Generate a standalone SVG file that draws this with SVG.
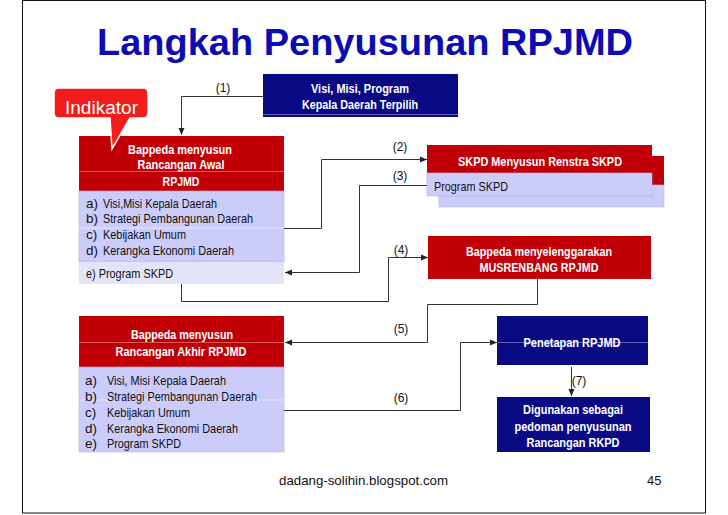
<svg xmlns="http://www.w3.org/2000/svg" width="728" height="515" viewBox="0 0 728 515">
<style>
.t{font-family:"Liberation Sans",Arial,sans-serif}
.hw{font-family:"Liberation Sans",Arial,sans-serif;font-weight:bold;font-size:13px;fill:#fff;text-anchor:middle}
.it{font-family:"Liberation Sans",Arial,sans-serif;font-size:13.5px;fill:#111}
.lb{font-family:"Liberation Sans",Arial,sans-serif;font-size:12px;fill:#111;text-anchor:middle}
.red{fill:#c00006}
.navy{fill:#0a0a84}
.lav{fill:#ccccfa;stroke:#b4b4dc;stroke-width:0.6}
.lav2{fill:#e4e4f8}
.con{fill:none;stroke:#333;stroke-width:1}
.ghost{stroke:#ffffff;stroke-opacity:0.35;stroke-width:1}
</style>
<defs>
<marker id="ah" markerWidth="7" markerHeight="7" refX="7" refY="3.5" orient="auto" markerUnits="userSpaceOnUse">
<path d="M0,0.5 L7,3.5 L0,6.5 z" fill="#222"/>
</marker>
</defs>
<rect x="0" y="0" width="728" height="515" fill="#fff"/>
<rect x="22.5" y="0.5" width="683" height="512.5" fill="none" stroke="#111" stroke-width="1"/>
<text class="t" x="97" y="55" font-size="37" font-weight="bold" fill="#0c0cb4" textLength="536" lengthAdjust="spacingAndGlyphs">Langkah Penyusunan RPJMD</text>

<g id="n-visi">
<rect class="navy" x="263" y="74" width="195" height="43"/>
<line x1="263" y1="114.5" x2="458" y2="114.5" stroke="#5a5ab4" stroke-width="1"/>
<text class="hw" x="360" y="93" textLength="98" lengthAdjust="spacingAndGlyphs">Visi, Misi, Program</text>
<text class="hw" x="360" y="109" textLength="116" lengthAdjust="spacingAndGlyphs">Kepala Daerah Terpilih</text>
</g>

<g id="n-awal">
<rect class="red" x="79" y="136" width="205" height="55"/>
<line class="ghost" x1="79" y1="171.5" x2="284" y2="171.5"/>
<rect class="lav" x="79" y="191" width="205" height="71"/>
<line x1="79" y1="228" x2="284" y2="228" stroke="#e6e6ff" stroke-width="1"/>
<rect class="lav2" x="79" y="262" width="205" height="22"/>
<text class="hw" x="180" y="153.5" textLength="104" lengthAdjust="spacingAndGlyphs">Bappeda menyusun</text>
<text class="hw" x="181" y="168.5" textLength="87" lengthAdjust="spacingAndGlyphs">Rancangan Awal</text>
<text class="hw" x="181" y="185.5" textLength="37" lengthAdjust="spacingAndGlyphs">RPJMD</text>
<text class="it" x="86" y="207.5">a)</text><text class="it" x="103" y="207.5" textLength="114" lengthAdjust="spacingAndGlyphs">Visi,Misi Kepala Daerah</text>
<text class="it" x="86" y="223">b)</text><text class="it" x="103" y="223" textLength="150" lengthAdjust="spacingAndGlyphs">Strategi Pembangunan Daerah</text>
<text class="it" x="86" y="239">c)</text><text class="it" x="103" y="239" textLength="83" lengthAdjust="spacingAndGlyphs">Kebijakan Umum</text>
<text class="it" x="86" y="255">d)</text><text class="it" x="103" y="255" textLength="131" lengthAdjust="spacingAndGlyphs">Kerangka Ekonomi Daerah</text>
<text class="it" x="86" y="278" textLength="87" lengthAdjust="spacingAndGlyphs">e) Program SKPD</text>
</g>

<g id="n-indikator">
<path d="M59,88 H143 Q148,88 148,93 V113 Q148,118 143,118 H130 L112,149 L110,118 H59 Q54,118 54,113 V93 Q54,88 59,88 Z" fill="#f21c1c" stroke="#fff" stroke-width="1.5"/>
<text class="t" x="65" y="113.5" font-size="19" fill="#fff" textLength="73" lengthAdjust="spacingAndGlyphs">Indikator</text>
</g>

<g id="n-skpd">
<rect class="red" x="439" y="156" width="225" height="29"/>
<rect class="lav" x="439" y="185" width="225" height="22"/>
<rect class="red" x="427" y="145" width="225" height="28"/>
<rect class="lav" x="427" y="173" width="225" height="23"/>
<text class="hw" x="540" y="165.5" textLength="164" lengthAdjust="spacingAndGlyphs">SKPD Menyusun Renstra SKPD</text>
<text class="it" x="434" y="190.5" textLength="74" lengthAdjust="spacingAndGlyphs">Program SKPD</text>
</g>

<g id="n-musrenbang">
<rect class="red" x="428" y="236" width="223" height="43"/>
<text class="hw" x="539" y="255.5" textLength="146" lengthAdjust="spacingAndGlyphs">Bappeda menyelenggarakan</text>
<text class="hw" x="539" y="271.5" textLength="119" lengthAdjust="spacingAndGlyphs">MUSRENBANG RPJMD</text>
</g>

<g id="n-akhir">
<rect class="red" x="79" y="316" width="205" height="51"/>
<line class="ghost" x1="79" y1="342.5" x2="284" y2="342.5"/>
<rect class="lav" x="79" y="367" width="205" height="85"/>
<line x1="79" y1="400" x2="284" y2="400" stroke="#e6e6ff" stroke-width="1"/>
<text class="hw" x="182" y="338.5" textLength="102" lengthAdjust="spacingAndGlyphs">Bappeda menyusun</text>
<text class="hw" x="181" y="355.5" textLength="131" lengthAdjust="spacingAndGlyphs">Rancangan Akhir RPJMD</text>
<text class="it" x="85" y="384.5">a)</text><text class="it" x="107" y="384.5" textLength="119" lengthAdjust="spacingAndGlyphs">Visi, Misi Kepala Daerah</text>
<text class="it" x="85" y="400.5">b)</text><text class="it" x="107" y="400.5" textLength="150" lengthAdjust="spacingAndGlyphs">Strategi Pembangunan Daerah</text>
<text class="it" x="85" y="416.5">c)</text><text class="it" x="107" y="416.5" textLength="83" lengthAdjust="spacingAndGlyphs">Kebijakan Umum</text>
<text class="it" x="85" y="432.5">d)</text><text class="it" x="107" y="432.5" textLength="131" lengthAdjust="spacingAndGlyphs">Kerangka Ekonomi Daerah</text>
<text class="it" x="85" y="447.5">e)</text><text class="it" x="107" y="447.5" textLength="74" lengthAdjust="spacingAndGlyphs">Program SKPD</text>
</g>

<g id="n-penetapan">
<rect class="navy" x="497" y="316" width="151" height="49"/>
<line class="ghost" x1="497" y1="342.5" x2="648" y2="342.5"/>
<text class="hw" x="572" y="346.5" textLength="97" lengthAdjust="spacingAndGlyphs">Penetapan RPJMD</text>
</g>

<g id="n-digunakan">
<rect class="navy" x="497" y="397" width="153" height="55"/>
<text class="hw" x="573" y="413.5" textLength="100" lengthAdjust="spacingAndGlyphs">Digunakan sebagai</text>
<text class="hw" x="573" y="430.5" textLength="117" lengthAdjust="spacingAndGlyphs">pedoman penyusunan</text>
<text class="hw" x="573" y="446.5" textLength="93" lengthAdjust="spacingAndGlyphs">Rancangan RKPD</text>
</g>

<g id="connectors">
<polyline class="con" points="263,96.5 181.5,96.5 181.5,135" marker-end="url(#ah)"/>
<polyline class="con" points="284,228.5 321.5,228.5 321.5,159.5 427,159.5" marker-end="url(#ah)"/>
<polyline class="con" points="427,185.5 359.5,185.5 359.5,272.5 285,272.5" marker-end="url(#ah)"/>
<polyline class="con" points="181.5,284 181.5,301.5 388.5,301.5 388.5,257.5 428,257.5" marker-end="url(#ah)"/>
<polyline class="con" points="537.5,279 537.5,304.5 427.5,304.5 427.5,342.5 285,342.5" marker-end="url(#ah)"/>
<polyline class="con" points="284,410.5 460.5,410.5 460.5,342.5 497,342.5" marker-end="url(#ah)"/>
<polyline class="con" points="571.5,367 571.5,396" marker-end="url(#ah)"/>
<text class="lb" x="223" y="91.5">(1)</text>
<text class="lb" x="400" y="150.5">(2)</text>
<text class="lb" x="400" y="179.5">(3)</text>
<text class="lb" x="401" y="253.5">(4)</text>
<text class="lb" x="401" y="332.5">(5)</text>
<text class="lb" x="401" y="401.5">(6)</text>
<text class="lb" x="579" y="384.5">(7)</text>
</g>

<text class="t" x="279" y="485" font-size="13" fill="#111" textLength="169" lengthAdjust="spacingAndGlyphs">dadang-solihin.blogspot.com</text>
<text class="t" x="647" y="485" font-size="13" fill="#111">45</text>
</svg>
